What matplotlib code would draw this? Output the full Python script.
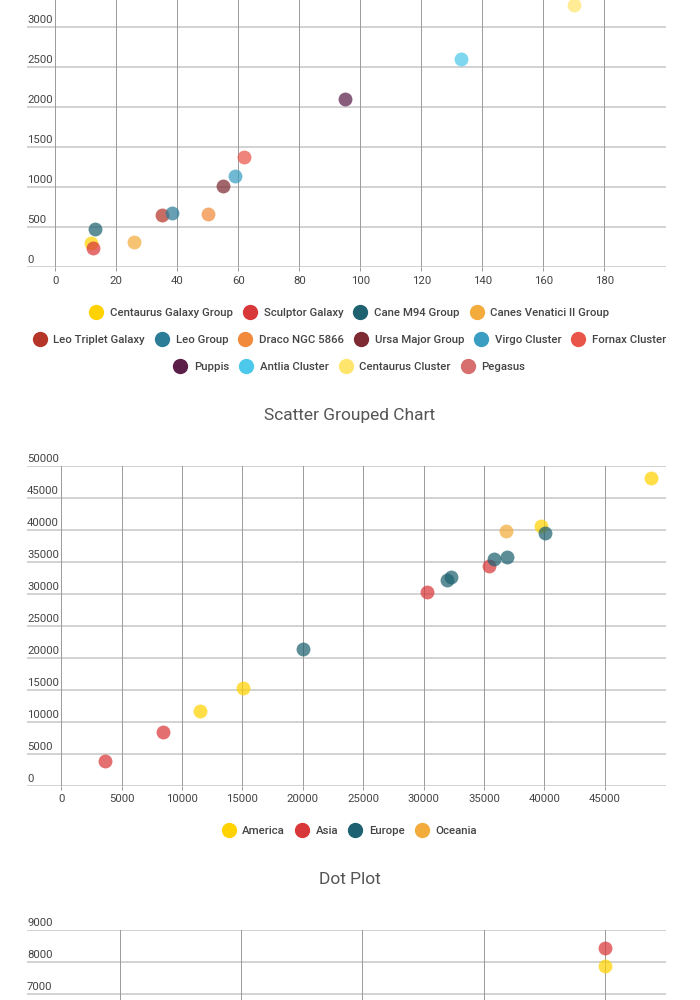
import matplotlib.pyplot as plt
from matplotlib.lines import Line2D
from matplotlib import transforms

plt.rcParams['font.family'] = ['Roboto', 'DejaVu Sans']

# chart 1 - galaxy groups
galaxy_names = ['Centaurus Galaxy Group', 'Sculptor Galaxy', 'Cane M94 Group', 'Canes Venatici II Group',
                'Leo Triplet Galaxy', 'Leo Group', 'Draco NGC 5866', 'Ursa Major Group', 'Virgo Cluster',
                'Fornax Cluster', 'Puppis', 'Antlia Cluster', 'Centaurus Cluster', 'Pegasus']
galaxy_colors = ['#FFD200', '#D9383A', '#1E6271', '#F3AC3C', '#B53528', '#2C7C98', '#F28A3C',
                 '#7D2A33', '#3A9EC2', '#EA5549', '#5B1E48', '#4CC8EA', '#FFE56B', '#D76F6F']
galaxy_x = [[11.6], [12.5], [13.0], [25.9], [34.9], [38.2], [50.0], [55.1], [59.0], [61.9], [95.0], [133.1], [170.1], []]
galaxy_y = [[308], [245], [482], [313], [658], [682], [670], [1020], [1141], [1383], [2104], [2604], [3283], []]
galaxy_rows = [[0, 1, 2, 3], [4, 5, 6, 7, 8, 9], [10, 11, 12, 13]]
galaxy_xticks = [0, 20, 40, 60, 80, 100, 120, 140, 160, 180]
galaxy_yticks = [0, 500, 1000, 1500, 2000, 2500, 3000]

# chart 2 - scatter grouped
regions = ['America', 'Asia', 'Europe', 'Oceania']
region_colors = ['#FFD200', '#D9383A', '#1E6271', '#F3AC3C']
region_x = [[11470, 15080, 39750, 48820],
            [3610, 8440, 30240, 35440],
            [20020, 31900, 32300, 35800, 36910, 40080],
            [36840]]
region_y = [[11690, 15290, 40600, 48120],
            [3810, 8400, 30320, 34290],
            [21290, 32150, 32670, 35390, 35700, 39460],
            [39880]]
grouped_xticks = [0, 5000, 10000, 15000, 20000, 25000, 30000, 35000, 40000, 45000]
grouped_yticks = [0, 5000, 10000, 15000, 20000, 25000, 30000, 35000, 40000, 45000, 50000]

# chart 3 - dot plot (only the top part shows)
dot_x = [[5], [5], [], []]
dot_y = [[7880], [8440], [], []]
dot_xticks = [1, 2, 3, 4, 5]
dot_yticks = [7000, 8000, 9000]

TXT = '#444444'
HGRID = '#cfcfcf'
VGRID = '#9a9a9a'

fig = plt.figure(figsize=(7, 10), dpi=100)


def style_axes(ax, xticks, yticks, xlim, ylim, xlabels=True):
    ax.set_xlim(*xlim)
    ax.set_ylim(*ylim)
    for s in ax.spines.values():
        s.set_visible(False)
    ax.set_yticks([])
    for v in yticks:
        ax.axhline(v, color=HGRID, lw=1.3, zorder=1)
    for v in xticks:
        ax.axvline(v, color=VGRID, lw=0.7, zorder=1)
    ax.set_xticks(xticks)
    ax.tick_params(axis='x', length=3, width=0.7, color=VGRID, labelsize=8.2, labelcolor=TXT, pad=3)
    if not xlabels:
        ax.set_xticklabels([])
    trans = transforms.offset_copy(ax.get_yaxis_transform(), fig=fig, x=0, y=1.3, units='points')
    for v in yticks:
        ax.text(0, v, str(v), transform=trans, ha='left', va='bottom', fontsize=8.2, color=TXT, clip_on=False)
    ax.set_facecolor('none')


def legend_row(handles_idx, names, colors, ypix):
    handles = [Line2D([], [], ls='none', marker='o', markersize=10, color=colors[i]) for i in handles_idx]
    labels = [names[i] for i in handles_idx]
    leg = fig.legend(handles, labels, loc='center', bbox_to_anchor=(0.5, 1 - ypix / 1000), ncol=len(handles),
                     frameon=False, fontsize=8.2, labelcolor=TXT, handlelength=1.0, handletextpad=0.7,
                     columnspacing=1.0, borderpad=0)
    for t in leg.get_texts():
        t.set_fontweight('medium')


# chart 1
ax1 = fig.add_axes([27 / 700, 1 - 267.3 / 1000, 639 / 700, 0.2873])
for i in range(len(galaxy_names)):
    ax1.scatter(galaxy_x[i], galaxy_y[i], s=100, color=galaxy_colors[i], alpha=0.72, lw=0, zorder=3)
style_axes(ax1, galaxy_xticks, galaxy_yticks, (-9.3, 200.2), (0, 3591))
for r, row in enumerate(galaxy_rows):
    legend_row(row, galaxy_names, galaxy_colors, 313 + 27 * r)

fig.text(0.5, 1 - 416 / 1000, 'Scatter Grouped Chart', ha='center', va='center', fontsize=12.5, color='#555555')

# chart 2
ax2 = fig.add_axes([27 / 700, 1 - 785.5 / 1000, 639 / 700, 0.3195])
for i in range(len(regions)):
    ax2.scatter(region_x[i], region_y[i], s=100, color=region_colors[i], alpha=0.72, lw=0, zorder=3)
style_axes(ax2, grouped_xticks, grouped_yticks, (-2840, 50060), (0, 50000))
legend_row([0, 1, 2, 3], regions, region_colors, 831)

fig.text(0.5, 1 - 880 / 1000, 'Dot Plot', ha='center', va='center', fontsize=12.5, color='#555555')

# chart 3
ax3 = fig.add_axes([27 / 700, 1 - (929.5 + 289.8) / 1000, 639 / 700, 0.2898])
for i in range(len(regions)):
    ax3.scatter(dot_x[i], dot_y[i], s=100, color=region_colors[i], alpha=0.72, lw=0, zorder=3)
style_axes(ax3, dot_xticks, dot_yticks, (0.237, 5.503), (0, 9000), xlabels=False)

fig.savefig('out.png', dpi=100)
